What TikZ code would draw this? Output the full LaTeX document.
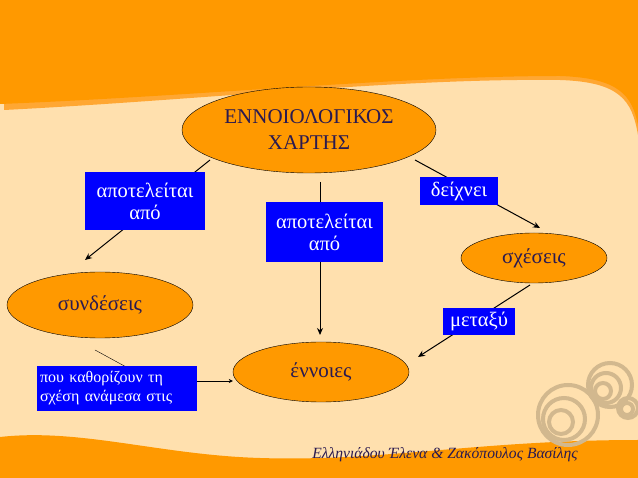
\documentclass[tikz,border=0pt]{standalone}
\usepackage{fontspec}
\setmainfont{Liberation Serif}
\usetikzlibrary{shapes.geometric,arrows.meta}
\definecolor{peach}{HTML}{FFE0AE}
\definecolor{org}{HTML}{FF9900}
\definecolor{org2}{HTML}{FFA733}
\definecolor{bbox}{HTML}{0000FF}
\definecolor{txt}{HTML}{2A1A50}
\definecolor{tan}{HTML}{D2B88E}
\tikzset{
 ell/.style={ellipse,draw=black,thin,fill=org,text=txt,font=\fontsize{21}{26}\selectfont,align=center,inner sep=0pt},
 lbl/.style={fill=bbox,text=white,font=\fontsize{20.5}{22}\selectfont,align=center,inner sep=3pt},
 arr/.style={-{Stealth[length=7pt,width=6pt]},line width=1pt},
}
\begin{document}
\begin{tikzpicture}[x=1pt,y=-1pt]
\useasboundingbox (0,0) rectangle (638,478);
\fill[peach] (0,0) rectangle (638,478);
% top band
\fill[org2] (0,0) -- (638,0) -- (638,135) .. controls (632,100) and (620,82) .. (560,80) .. controls (400,78) and (200,100) .. (4,110) -- (4,104) -- (0,104) -- cycle;
\fill[org] (0,0) -- (638,0) -- (638,125) .. controls (632,96) and (620,78) .. (560,76) .. controls (400,76) and (200,96) .. (0,104) -- cycle;
% bottom band
\fill[org] (0,437) .. controls (80,428) and (160,455) .. (260,458) .. controls (380,462) and (480,440) .. (638,440) -- (638,478) -- (0,478) -- cycle;
% spirals
\foreach \cx/\cy/\r in {610/385/22,606/388/15,603/391/8,568/415/30,564/419/21,561/422/12,628/408/10,627/409/6} {
 \draw[tan,line width=4pt] (\cx,\cy) circle (\r);
}
% nodes
\node[ell,minimum width=254,minimum height=86] (top) at (309,130) {ΕΝΝΟΙΟΛΟΓΙΚΟΣ\\ΧΑΡΤΗΣ};
\node[ell,minimum width=186,minimum height=66] (syn) at (100,305) {συνδέσεις};
\node[ell,minimum width=146,minimum height=50] (sch) at (534,258) {σχέσεις};
\node[ell,minimum width=176,minimum height=60] (enn) at (321,372) {έννοιες};
\coordinate (a1) at (210,160); \coordinate (a2) at (85,260);
\coordinate (b1) at (320,182); \coordinate (b2) at (320,335);
\coordinate (c1) at (415,160); \coordinate (c2) at (540,228);
\coordinate (d1) at (530,285); \coordinate (d2) at (418,357);
\coordinate (e1) at (95,350); \coordinate (e2) at (128,368);
\draw[arr] (a1) -- (a2);
\draw[arr] (b1) -- (b2);
\draw[arr] (c1) -- (c2);
\draw[arr] (d1) -- (d2);
\draw[thin] (e1) -- (e2);
\node[lbl,minimum width=120,minimum height=58] (l1) at (145,201) {αποτελείται\\από};
\node[lbl,minimum width=117,minimum height=60] (l2) at (324.5,232) {αποτελείται\\από};
\node[lbl,minimum width=78,minimum height=28] (l3) at (459,191) {δείχνει};
\node[lbl,minimum width=72,minimum height=27] (l4) at (479,321.5) {μεταξύ};
\node[lbl,minimum width=160,minimum height=45,align=left,font=\fontsize{16}{19}\selectfont,text width=154,inner sep=2pt] (l5) at (117,388.5) {που καθορίζουν τη\\σχέση ανάμεσα στις};
\draw[-{Stealth[length=4pt,width=4pt]},thin] (l5.east |- 0,381) -- (enn.west |- 0,381);
\node[font=\itshape\fontsize{15.6}{17}\selectfont,text=txt] (auth) at (445,455) {Ελληνιάδου Έλενα \& Ζακόπουλος Βασίλης};
\end{tikzpicture}
\end{document}
